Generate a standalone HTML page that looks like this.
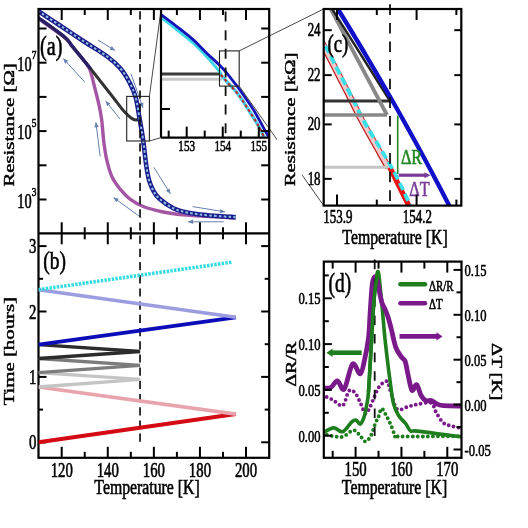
<!DOCTYPE html><html><head><meta charset="utf-8"><style>html,body{margin:0;padding:0;background:#fff;width:528px;height:528px;overflow:hidden}svg{display:block;will-change:transform}text{font-family:"Liberation Serif",serif}</style></head><body>
<svg width="528" height="528" viewBox="0 0 528 528">
<rect width="528" height="528" fill="#fff"/>
<defs>
<clipPath id="clipA"><rect x="38.5" y="9" width="230.7" height="224.3"/></clipPath>
<clipPath id="clipI"><rect x="161" y="9" width="108.2" height="128.6"/></clipPath>
<clipPath id="clipC"><rect x="323.7" y="9" width="137.6" height="196.6"/></clipPath>
<clipPath id="clipB"><rect x="38.5" y="233.3" width="230.7" height="224.5"/></clipPath>
<clipPath id="clipD"><rect x="323.8" y="261.6" width="137.7" height="196.2"/></clipPath>
</defs>
<g clip-path="url(#clipA)">
<path d="M38.00,18.50 C42.42,21.67 58.75,32.75 64.50,37.50 C70.25,42.25 69.08,42.92 72.50,47.00 C75.92,51.08 82.08,58.17 85.00,62.00 C87.92,65.83 88.28,65.33 90.00,70.00 C91.72,74.67 93.80,84.17 95.30,90.00 C96.80,95.83 97.93,100.00 99.00,105.00 C100.07,110.00 100.88,113.72 101.70,120.00 C102.52,126.28 103.02,135.88 103.90,142.70 C104.78,149.52 105.60,155.08 107.00,160.90 C108.40,166.72 110.03,172.80 112.30,177.60 C114.57,182.40 117.70,186.17 120.60,189.70 C123.50,193.23 125.92,196.00 129.70,198.80 C133.48,201.60 137.72,204.30 143.30,206.50 C148.88,208.70 156.58,210.62 163.20,212.00 C169.82,213.38 175.20,214.05 183.00,214.80 C190.80,215.55 201.22,215.97 210.00,216.50 C218.78,217.03 231.42,217.75 235.70,218.00" fill="none" stroke="#a456a4" stroke-width="3.4" stroke-linejoin="round" />
<path d="M38.00,17.50 C42.42,20.75 58.75,32.17 64.50,37.00 C70.25,41.83 68.28,41.37 72.50,46.50 C76.72,51.63 84.72,61.47 89.80,67.80 C94.88,74.13 98.97,79.38 103.00,84.50 C107.03,89.62 110.62,94.17 114.00,98.50 C117.38,102.83 120.43,107.25 123.30,110.50 C126.17,113.75 129.08,116.42 131.20,118.00 C133.32,119.58 134.62,119.92 136.00,120.00 C137.38,120.08 138.92,118.75 139.50,118.50" fill="none" stroke="#333333" stroke-width="3.0" stroke-linejoin="round" />
<path d="M38.00,17.50 C42.42,20.75 58.75,32.17 64.50,37.00 C70.25,41.83 68.28,41.37 72.50,46.50 C76.72,51.63 86.92,64.25 89.80,67.80" fill="none" stroke="#2a2068" stroke-width="3.4" stroke-linejoin="round" stroke-linecap="round"/>
<path d="M38.00,10.90 C41.67,13.33 52.33,20.40 60.00,25.50 C67.67,30.60 76.13,36.33 84.00,41.50 C91.87,46.67 101.12,52.00 107.20,56.50 C113.28,61.00 116.73,64.08 120.50,68.50 C124.27,72.92 127.27,78.17 129.80,83.00 C132.33,87.83 134.03,91.35 135.70,97.50 C137.37,103.65 138.57,112.85 139.80,119.90 C141.03,126.95 142.03,132.28 143.10,139.80 C144.17,147.32 145.22,158.30 146.20,165.00 C147.18,171.70 147.87,175.83 149.00,180.00 C150.13,184.17 151.30,186.92 153.00,190.00 C154.70,193.08 155.73,195.42 159.20,198.50 C162.67,201.58 168.72,206.08 173.80,208.50 C178.88,210.92 183.67,211.83 189.70,213.00 C195.73,214.17 202.33,214.80 210.00,215.50 C217.67,216.20 231.42,216.92 235.70,217.20" fill="none" stroke="#1c1c8c" stroke-width="4.6" stroke-linejoin="round" />
<path d="M38.00,10.90 C41.67,13.33 52.33,20.40 60.00,25.50 C67.67,30.60 76.13,36.33 84.00,41.50 C91.87,46.67 101.12,52.00 107.20,56.50 C113.28,61.00 116.73,64.08 120.50,68.50 C124.27,72.92 127.27,78.17 129.80,83.00 C132.33,87.83 134.03,91.35 135.70,97.50 C137.37,103.65 138.57,112.85 139.80,119.90 C141.03,126.95 142.03,132.28 143.10,139.80 C144.17,147.32 145.22,158.30 146.20,165.00 C147.18,171.70 147.87,175.83 149.00,180.00 C150.13,184.17 151.30,186.92 153.00,190.00 C154.70,193.08 155.73,195.42 159.20,198.50 C162.67,201.58 168.72,206.08 173.80,208.50 C178.88,210.92 183.67,211.83 189.70,213.00 C195.73,214.17 202.33,214.80 210.00,215.50 C217.67,216.20 231.42,216.92 235.70,217.20" fill="none" stroke="#8cc0e0" stroke-width="2.0" stroke-linejoin="round" stroke-dasharray="2.6 2.2"/>
<line x1="98.00" y1="40.00" x2="115.00" y2="50.50" stroke="#6680b0" stroke-width="1.0" />
<path d="M115.00,50.50 L109.59,49.74 L111.90,46.00 Z" fill="#6680b0"/>
<line x1="131.00" y1="73.80" x2="143.00" y2="108.00" stroke="#6680b0" stroke-width="1.0" />
<path d="M143.00,108.00 L139.27,104.01 L143.42,102.55 Z" fill="#6680b0"/>
<line x1="84.50" y1="81.80" x2="63.30" y2="58.60" stroke="#6680b0" stroke-width="1.0" />
<path d="M63.30,58.60 L68.30,60.81 L65.05,63.78 Z" fill="#6680b0"/>
<line x1="120.00" y1="119.00" x2="105.70" y2="101.00" stroke="#6680b0" stroke-width="1.0" />
<path d="M105.70,101.00 L110.53,103.55 L107.09,106.28 Z" fill="#6680b0"/>
<line x1="100.20" y1="156.40" x2="95.90" y2="122.30" stroke="#6680b0" stroke-width="1.0" />
<path d="M95.90,122.30 L98.71,126.99 L94.34,127.54 Z" fill="#6680b0"/>
<line x1="141.30" y1="217.70" x2="113.50" y2="197.50" stroke="#6680b0" stroke-width="1.0" />
<path d="M113.50,197.50 L118.84,198.66 L116.25,202.22 Z" fill="#6680b0"/>
<line x1="153.90" y1="167.30" x2="170.40" y2="193.80" stroke="#6680b0" stroke-width="1.0" />
<path d="M170.40,193.80 L165.89,190.72 L169.62,188.39 Z" fill="#6680b0"/>
<line x1="192.60" y1="206.60" x2="225.00" y2="211.90" stroke="#6680b0" stroke-width="1.0" />
<path d="M225.00,211.90 L219.71,213.26 L220.42,208.92 Z" fill="#6680b0"/>
<line x1="223.80" y1="221.80" x2="188.00" y2="221.80" stroke="#6680b0" stroke-width="1.0" />
<path d="M188.00,221.80 L193.00,219.60 L193.00,224.00 Z" fill="#6680b0"/>
</g>
<line x1="140.04" y1="11.20" x2="140.04" y2="442.00" stroke="#111" stroke-width="1.7" stroke-dasharray="8.2 5.0"/>
<rect x="126.7" y="96.4" width="22.7" height="44.6" fill="none" stroke="#222" stroke-width="1.1"/>
<line x1="149.40" y1="96.40" x2="161.00" y2="10.00" stroke="#333" stroke-width="0.9" />
<line x1="149.40" y1="141.00" x2="161.00" y2="137.60" stroke="#333" stroke-width="0.9" />
<rect x="161" y="9" width="108.2" height="128.6" fill="#fff"/>
<g clip-path="url(#clipI)">
<line x1="161.00" y1="74.00" x2="222.00" y2="74.00" stroke="#3a3a3a" stroke-width="3.0" />
<line x1="161.00" y1="79.20" x2="222.00" y2="79.20" stroke="#c8c8c8" stroke-width="3.0" />
<path d="M161.00,17.50 C163.58,19.50 171.25,25.33 176.50,29.50 C181.75,33.67 187.42,37.92 192.50,42.50 C197.58,47.08 202.15,51.75 207.00,57.00 C211.85,62.25 219.17,71.17 221.60,74.00" fill="none" stroke="#40d8e8" stroke-width="3.0" stroke-linejoin="round" />
<path d="M221.00,75.00 C222.17,76.33 225.17,79.83 228.00,83.00 C230.83,86.17 234.67,89.67 238.00,94.00 C241.33,98.33 244.58,103.67 248.00,109.00 C251.42,114.33 255.83,121.33 258.50,126.00 C261.17,130.67 263.08,135.17 264.00,137.00" fill="none" stroke="#48d0e8" stroke-width="3.4" stroke-linejoin="round" />
<path d="M221.00,75.00 C222.17,76.33 225.17,79.83 228.00,83.00 C230.83,86.17 234.67,89.67 238.00,94.00 C241.33,98.33 244.58,103.67 248.00,109.00 C251.42,114.33 255.83,121.33 258.50,126.00 C261.17,130.67 263.08,135.17 264.00,137.00" fill="none" stroke="#c02828" stroke-width="2.0" stroke-linejoin="round" stroke-dasharray="3 2.5"/>
<path d="M161.00,14.60 C163.58,16.55 171.25,22.22 176.50,26.30 C181.75,30.38 187.42,34.57 192.50,39.10 C197.58,43.63 201.48,48.07 207.00,53.50 C212.52,58.93 218.37,63.12 225.60,71.70 C232.83,80.28 243.50,94.62 250.40,105.00 C257.30,115.38 263.40,127.83 267.00,134.00 C270.60,140.17 271.17,140.67 272.00,142.00" fill="none" stroke="#1414b8" stroke-width="2.8" stroke-linejoin="round" />
</g>
<line x1="225.60" y1="11.60" x2="225.60" y2="137.00" stroke="#111" stroke-width="1.8" stroke-dasharray="10 8.6"/>
<rect x="219.5" y="50.9" width="19.7" height="35.2" fill="none" stroke="#222" stroke-width="1.1"/>
<line x1="239.20" y1="50.90" x2="323.70" y2="9.00" stroke="#333" stroke-width="0.9" />
<line x1="239.20" y1="86.10" x2="323.70" y2="205.60" stroke="#333" stroke-width="0.9" />
<line x1="161.00" y1="9.00" x2="161.00" y2="137.60" stroke="#000" stroke-width="2.2" />
<line x1="161.00" y1="137.60" x2="269.20" y2="137.60" stroke="#000" stroke-width="2.2" />
<line x1="168.67" y1="137.60" x2="168.67" y2="130.60" stroke="#000" stroke-width="2.0" />
<line x1="186.70" y1="137.60" x2="186.70" y2="126.60" stroke="#000" stroke-width="2.0" />
<line x1="204.72" y1="137.60" x2="204.72" y2="130.60" stroke="#000" stroke-width="2.0" />
<line x1="222.75" y1="137.60" x2="222.75" y2="126.60" stroke="#000" stroke-width="2.0" />
<line x1="240.77" y1="137.60" x2="240.77" y2="130.60" stroke="#000" stroke-width="2.0" />
<line x1="258.80" y1="137.60" x2="258.80" y2="126.60" stroke="#000" stroke-width="2.0" />
<line x1="161.00" y1="109.00" x2="170.00" y2="109.00" stroke="#000" stroke-width="2.0" />
<text transform="translate(186.70,150.60) scale(0.72,1)" font-size="15.5" text-anchor="middle" fill="#000" stroke="#000" stroke-width="0.6" >153</text>
<text transform="translate(222.75,150.60) scale(0.72,1)" font-size="15.5" text-anchor="middle" fill="#000" stroke="#000" stroke-width="0.6" >154</text>
<text transform="translate(258.80,150.60) scale(0.72,1)" font-size="15.5" text-anchor="middle" fill="#000" stroke="#000" stroke-width="0.6" >155</text>
<rect x="38.5" y="9.0" width="230.7" height="448.8" fill="none" stroke="#000" stroke-width="2.2"/>
<line x1="38.50" y1="233.30" x2="269.20" y2="233.30" stroke="#000" stroke-width="2.2" />
<line x1="61.70" y1="9.00" x2="61.70" y2="20.00" stroke="#000" stroke-width="2.0" />
<line x1="61.70" y1="233.30" x2="61.70" y2="222.30" stroke="#000" stroke-width="2.0" />
<line x1="61.70" y1="233.30" x2="61.70" y2="244.30" stroke="#000" stroke-width="2.0" />
<line x1="61.70" y1="457.80" x2="61.70" y2="446.80" stroke="#000" stroke-width="2.0" />
<line x1="84.74" y1="9.00" x2="84.74" y2="15.00" stroke="#000" stroke-width="2.0" />
<line x1="84.74" y1="233.30" x2="84.74" y2="227.30" stroke="#000" stroke-width="2.0" />
<line x1="84.74" y1="233.30" x2="84.74" y2="239.30" stroke="#000" stroke-width="2.0" />
<line x1="84.74" y1="457.80" x2="84.74" y2="451.80" stroke="#000" stroke-width="2.0" />
<line x1="107.78" y1="9.00" x2="107.78" y2="20.00" stroke="#000" stroke-width="2.0" />
<line x1="107.78" y1="233.30" x2="107.78" y2="222.30" stroke="#000" stroke-width="2.0" />
<line x1="107.78" y1="233.30" x2="107.78" y2="244.30" stroke="#000" stroke-width="2.0" />
<line x1="107.78" y1="457.80" x2="107.78" y2="446.80" stroke="#000" stroke-width="2.0" />
<line x1="130.82" y1="9.00" x2="130.82" y2="15.00" stroke="#000" stroke-width="2.0" />
<line x1="130.82" y1="233.30" x2="130.82" y2="227.30" stroke="#000" stroke-width="2.0" />
<line x1="130.82" y1="233.30" x2="130.82" y2="239.30" stroke="#000" stroke-width="2.0" />
<line x1="130.82" y1="457.80" x2="130.82" y2="451.80" stroke="#000" stroke-width="2.0" />
<line x1="153.86" y1="9.00" x2="153.86" y2="20.00" stroke="#000" stroke-width="2.0" />
<line x1="153.86" y1="233.30" x2="153.86" y2="222.30" stroke="#000" stroke-width="2.0" />
<line x1="153.86" y1="233.30" x2="153.86" y2="244.30" stroke="#000" stroke-width="2.0" />
<line x1="153.86" y1="457.80" x2="153.86" y2="446.80" stroke="#000" stroke-width="2.0" />
<line x1="176.90" y1="9.00" x2="176.90" y2="15.00" stroke="#000" stroke-width="2.0" />
<line x1="176.90" y1="233.30" x2="176.90" y2="227.30" stroke="#000" stroke-width="2.0" />
<line x1="176.90" y1="233.30" x2="176.90" y2="239.30" stroke="#000" stroke-width="2.0" />
<line x1="176.90" y1="457.80" x2="176.90" y2="451.80" stroke="#000" stroke-width="2.0" />
<line x1="199.94" y1="9.00" x2="199.94" y2="20.00" stroke="#000" stroke-width="2.0" />
<line x1="199.94" y1="233.30" x2="199.94" y2="222.30" stroke="#000" stroke-width="2.0" />
<line x1="199.94" y1="233.30" x2="199.94" y2="244.30" stroke="#000" stroke-width="2.0" />
<line x1="199.94" y1="457.80" x2="199.94" y2="446.80" stroke="#000" stroke-width="2.0" />
<line x1="222.98" y1="9.00" x2="222.98" y2="15.00" stroke="#000" stroke-width="2.0" />
<line x1="222.98" y1="233.30" x2="222.98" y2="227.30" stroke="#000" stroke-width="2.0" />
<line x1="222.98" y1="233.30" x2="222.98" y2="239.30" stroke="#000" stroke-width="2.0" />
<line x1="222.98" y1="457.80" x2="222.98" y2="451.80" stroke="#000" stroke-width="2.0" />
<line x1="246.02" y1="9.00" x2="246.02" y2="20.00" stroke="#000" stroke-width="2.0" />
<line x1="246.02" y1="233.30" x2="246.02" y2="222.30" stroke="#000" stroke-width="2.0" />
<line x1="246.02" y1="233.30" x2="246.02" y2="244.30" stroke="#000" stroke-width="2.0" />
<line x1="246.02" y1="457.80" x2="246.02" y2="446.80" stroke="#000" stroke-width="2.0" />
<line x1="38.50" y1="199.50" x2="46.50" y2="199.50" stroke="#000" stroke-width="2.0" />
<line x1="269.20" y1="199.50" x2="261.20" y2="199.50" stroke="#000" stroke-width="2.0" />
<line x1="38.50" y1="165.30" x2="46.50" y2="165.30" stroke="#000" stroke-width="2.0" />
<line x1="269.20" y1="165.30" x2="261.20" y2="165.30" stroke="#000" stroke-width="2.0" />
<line x1="38.50" y1="131.10" x2="46.50" y2="131.10" stroke="#000" stroke-width="2.0" />
<line x1="269.20" y1="131.10" x2="261.20" y2="131.10" stroke="#000" stroke-width="2.0" />
<line x1="38.50" y1="96.90" x2="46.50" y2="96.90" stroke="#000" stroke-width="2.0" />
<line x1="269.20" y1="96.90" x2="261.20" y2="96.90" stroke="#000" stroke-width="2.0" />
<line x1="38.50" y1="62.70" x2="46.50" y2="62.70" stroke="#000" stroke-width="2.0" />
<line x1="269.20" y1="62.70" x2="261.20" y2="62.70" stroke="#000" stroke-width="2.0" />
<line x1="38.50" y1="28.50" x2="46.50" y2="28.50" stroke="#000" stroke-width="2.0" />
<line x1="269.20" y1="28.50" x2="261.20" y2="28.50" stroke="#000" stroke-width="2.0" />
<line x1="38.50" y1="442.30" x2="46.50" y2="442.30" stroke="#000" stroke-width="2.0" />
<line x1="269.20" y1="442.30" x2="261.20" y2="442.30" stroke="#000" stroke-width="2.0" />
<line x1="38.50" y1="409.60" x2="43.00" y2="409.60" stroke="#000" stroke-width="2.0" />
<line x1="269.20" y1="409.60" x2="264.70" y2="409.60" stroke="#000" stroke-width="2.0" />
<line x1="38.50" y1="376.90" x2="46.50" y2="376.90" stroke="#000" stroke-width="2.0" />
<line x1="269.20" y1="376.90" x2="261.20" y2="376.90" stroke="#000" stroke-width="2.0" />
<line x1="38.50" y1="344.20" x2="43.00" y2="344.20" stroke="#000" stroke-width="2.0" />
<line x1="269.20" y1="344.20" x2="264.70" y2="344.20" stroke="#000" stroke-width="2.0" />
<line x1="38.50" y1="311.50" x2="46.50" y2="311.50" stroke="#000" stroke-width="2.0" />
<line x1="269.20" y1="311.50" x2="261.20" y2="311.50" stroke="#000" stroke-width="2.0" />
<line x1="38.50" y1="278.80" x2="43.00" y2="278.80" stroke="#000" stroke-width="2.0" />
<line x1="269.20" y1="278.80" x2="264.70" y2="278.80" stroke="#000" stroke-width="2.0" />
<line x1="38.50" y1="246.10" x2="46.50" y2="246.10" stroke="#000" stroke-width="2.0" />
<line x1="269.20" y1="246.10" x2="261.20" y2="246.10" stroke="#000" stroke-width="2.0" />
<g clip-path="url(#clipB)">
<line x1="38.50" y1="442.30" x2="235.88" y2="414.10" stroke="#d40a14" stroke-width="4.0" />
<line x1="235.88" y1="414.10" x2="38.50" y2="387.00" stroke="#e8a4ac" stroke-width="3.6" />
<line x1="38.50" y1="387.00" x2="140.10" y2="379.40" stroke="#c4c4c4" stroke-width="3.4" />
<line x1="140.10" y1="379.40" x2="38.50" y2="372.60" stroke="#c4c4c4" stroke-width="3.4" />
<line x1="38.50" y1="372.60" x2="140.10" y2="365.40" stroke="#7c7c7c" stroke-width="3.4" />
<line x1="140.10" y1="365.40" x2="38.50" y2="358.50" stroke="#7c7c7c" stroke-width="3.4" />
<line x1="38.50" y1="358.50" x2="140.10" y2="351.50" stroke="#2c2c2c" stroke-width="3.4" />
<line x1="140.10" y1="351.50" x2="38.50" y2="344.60" stroke="#2c2c2c" stroke-width="3.4" />
<line x1="38.50" y1="344.60" x2="235.88" y2="317.30" stroke="#0c0cb8" stroke-width="3.8" />
<line x1="235.88" y1="317.30" x2="38.50" y2="289.70" stroke="#9c9ce0" stroke-width="3.4" />
<line x1="38.50" y1="289.70" x2="232.20" y2="262.10" stroke="#30dce0" stroke-width="3.6" stroke-dasharray="2.4 1.3"/>
</g>
<text transform="translate(61.70,477.20) scale(0.72,1)" font-size="20.5" text-anchor="middle" fill="#000" stroke="#000" stroke-width="0.6" >120</text>
<text transform="translate(107.78,477.20) scale(0.72,1)" font-size="20.5" text-anchor="middle" fill="#000" stroke="#000" stroke-width="0.6" >140</text>
<text transform="translate(153.86,477.20) scale(0.72,1)" font-size="20.5" text-anchor="middle" fill="#000" stroke="#000" stroke-width="0.6" >160</text>
<text transform="translate(199.94,477.20) scale(0.72,1)" font-size="20.5" text-anchor="middle" fill="#000" stroke="#000" stroke-width="0.6" >180</text>
<text transform="translate(246.02,477.20) scale(0.72,1)" font-size="20.5" text-anchor="middle" fill="#000" stroke="#000" stroke-width="0.6" >200</text>
<text transform="translate(147.00,494.40) scale(0.77,1)" font-size="20.5" text-anchor="middle" fill="#000" stroke="#000" stroke-width="0.6" >Temperature [K]</text>
<text transform="translate(31.60,70.90) scale(0.72,1)" font-size="20.0" text-anchor="end" fill="#000" stroke="#000" stroke-width="0.6" >10</text>
<text transform="translate(31.80,58.70) scale(0.72,1)" font-size="13.0" text-anchor="start" fill="#000" stroke="#000" stroke-width="0.6" >7</text>
<text transform="translate(31.60,139.30) scale(0.72,1)" font-size="20.0" text-anchor="end" fill="#000" stroke="#000" stroke-width="0.6" >10</text>
<text transform="translate(31.80,127.10) scale(0.72,1)" font-size="13.0" text-anchor="start" fill="#000" stroke="#000" stroke-width="0.6" >5</text>
<text transform="translate(31.60,207.70) scale(0.72,1)" font-size="20.0" text-anchor="end" fill="#000" stroke="#000" stroke-width="0.6" >10</text>
<text transform="translate(31.80,195.50) scale(0.72,1)" font-size="13.0" text-anchor="start" fill="#000" stroke="#000" stroke-width="0.6" >3</text>
<text transform="translate(36.30,449.30) scale(0.72,1)" font-size="20.5" text-anchor="end" fill="#000" stroke="#000" stroke-width="0.6" >0</text>
<text transform="translate(36.30,383.90) scale(0.72,1)" font-size="20.5" text-anchor="end" fill="#000" stroke="#000" stroke-width="0.6" >1</text>
<text transform="translate(36.30,318.50) scale(0.72,1)" font-size="20.5" text-anchor="end" fill="#000" stroke="#000" stroke-width="0.6" >2</text>
<text transform="translate(36.30,253.10) scale(0.72,1)" font-size="20.5" text-anchor="end" fill="#000" stroke="#000" stroke-width="0.6" >3</text>
<text transform="translate(13.80,124.90) scale(0.72,1) rotate(-90)" font-size="20.8" text-anchor="middle" fill="#000" stroke="#000" stroke-width="0.6">Resistance [Ω]</text>
<text transform="translate(13.80,351.20) scale(0.72,1) rotate(-90)" font-size="20.8" text-anchor="middle" fill="#000" stroke="#000" stroke-width="0.6">Time [hours]</text>
<text transform="translate(40.00,55.00) scale(0.75,1)" font-size="27" text-anchor="start" fill="#000" stroke="#000" stroke-width="0.6" >(a)</text>
<text transform="translate(43.30,268.50) scale(0.78,1)" font-size="25" text-anchor="start" fill="#000" stroke="#000" stroke-width="0.6" >(b)</text>
<g clip-path="url(#clipC)">
<path d="M301.50,3.00 C305.75,11.25 318.68,36.33 327.00,52.50 C335.32,68.67 345.57,88.58 351.40,100.00 C357.23,111.42 355.73,109.50 362.00,121.00 C368.27,132.50 384.50,161.00 389.00,169.00" fill="none" stroke="#f2cccc" stroke-width="5.4" stroke-linejoin="round" />
<path d="M298.50,3.00 C302.75,11.25 315.68,36.33 324.00,52.50 C332.32,68.67 342.57,88.58 348.40,100.00 C354.23,111.42 352.73,109.50 359.00,121.00 C365.27,132.50 381.50,161.00 386.00,169.00" fill="none" stroke="#c02020" stroke-width="1.3" stroke-linejoin="round" />
<path d="M304.70,3.00 C308.95,11.25 321.88,36.33 330.20,52.50 C338.52,68.67 348.77,88.58 354.60,100.00 C360.43,111.42 358.93,109.50 365.20,121.00 C371.47,132.50 387.70,161.00 392.20,169.00" fill="none" stroke="#c04040" stroke-width="1.2" stroke-linejoin="round" />
<line x1="323.70" y1="167.20" x2="388.00" y2="167.20" stroke="#c4c4c4" stroke-width="3.0" />
<path d="M389.8,167.5 L409.5,207" fill="none" stroke="#ee1010" stroke-width="5.2" stroke-linejoin="round" />
<path d="M303.30,3.00 C307.55,11.25 320.48,36.33 328.80,52.50 C337.12,68.67 347.37,88.58 353.20,100.00 C359.03,111.42 357.25,109.50 363.80,121.00 C370.35,132.50 384.63,154.67 392.50,169.00 C400.37,183.33 407.92,200.67 411.00,207.00" fill="none" stroke="#38e0e8" stroke-width="3.8" stroke-linejoin="round" stroke-dasharray="8 4"/>
<line x1="323.70" y1="101.00" x2="390.00" y2="101.00" stroke="#333" stroke-width="3.0" />
<line x1="323.70" y1="115.00" x2="387.00" y2="115.00" stroke="#888" stroke-width="3.6" />
<path d="M326,0 L387,115" fill="none" stroke="#888" stroke-width="3.8" stroke-linejoin="round" />
<path d="M326.5,0 L390,101" fill="none" stroke="#222" stroke-width="2.4" stroke-linejoin="round" />
<path d="M332.22,0.00 C332.85,1.00 334.72,4.00 335.96,6.00 C337.20,8.00 338.44,10.00 339.67,12.00 C340.91,14.00 342.14,16.00 343.37,18.00 C344.60,20.00 345.82,22.00 347.05,24.00 C348.27,26.00 349.49,28.00 350.70,30.00 C351.92,32.00 353.13,34.00 354.34,36.00 C355.55,38.00 356.76,40.00 357.96,42.00 C359.16,44.00 360.36,46.00 361.56,48.00 C362.76,50.00 363.95,52.00 365.14,54.00 C366.33,56.00 367.52,58.00 368.70,60.00 C369.89,62.00 371.07,64.00 372.24,66.00 C373.42,68.00 374.60,70.00 375.77,72.00 C376.94,74.00 378.11,76.00 379.27,78.00 C380.43,80.00 381.60,82.00 382.75,84.00 C383.91,86.00 385.07,88.00 386.22,90.00 C387.37,92.00 388.52,94.00 389.66,96.00 C390.81,98.00 391.95,100.00 393.09,102.00 C394.23,104.00 395.37,106.00 396.50,108.00 C397.63,110.00 398.76,112.00 399.89,114.00 C401.01,116.00 402.14,118.00 403.25,120.00 C404.37,122.00 405.49,124.00 406.60,126.00 C407.72,128.00 408.83,130.00 409.93,132.00 C411.04,134.00 412.14,136.00 413.25,138.00 C414.35,140.00 415.44,142.00 416.54,144.00 C417.63,146.00 418.72,148.00 419.81,150.00 C420.90,152.00 421.98,154.00 423.06,156.00 C424.14,158.00 425.22,160.00 426.30,162.00 C427.37,164.00 428.44,166.00 429.51,168.00 C430.58,170.00 431.64,172.00 432.71,174.00 C433.77,176.00 434.83,178.00 435.88,180.00 C436.94,182.00 437.99,184.00 439.04,186.00 C440.09,188.00 441.13,190.00 442.18,192.00 C443.22,194.00 444.26,196.00 445.29,198.00 C446.33,200.00 447.36,202.00 448.39,204.00 C449.42,206.00 450.96,209.00 451.47,210.00" fill="none" stroke="#1010c8" stroke-width="4.4" stroke-linejoin="round" />
</g>
<line x1="390.00" y1="4.30" x2="390.00" y2="205.00" stroke="#111" stroke-width="1.8" stroke-dasharray="10.6 8"/>
<line x1="397.70" y1="115.60" x2="397.70" y2="174.00" stroke="#228822" stroke-width="1.6" />
<text transform="translate(411.50,163.90) scale(0.77,1)" font-size="21" text-anchor="middle" fill="#228822" stroke="#228822" stroke-width="0.6" >ΔR</text>
<line x1="398.70" y1="175.20" x2="426.00" y2="175.20" stroke="#7a3a98" stroke-width="3.2" />
<path d="M430.5,175.2 L424.5,172.2 L424.5,178.2 Z" fill="#7a3a98"/>
<text transform="translate(419.50,195.50) scale(0.77,1)" font-size="21" text-anchor="middle" fill="#7a3a98" stroke="#7a3a98" stroke-width="0.6" >ΔT</text>
<rect x="323.7" y="9.0" width="137.60000000000002" height="196.6" fill="none" stroke="#000" stroke-width="2.2"/>
<line x1="323.70" y1="178.85" x2="331.70" y2="178.85" stroke="#000" stroke-width="2.0" />
<line x1="461.30" y1="178.85" x2="454.30" y2="178.85" stroke="#000" stroke-width="2.0" />
<text transform="translate(320.60,184.85) scale(0.72,1)" font-size="18" text-anchor="end" fill="#000" stroke="#000" stroke-width="0.6" >18</text>
<line x1="323.70" y1="124.40" x2="331.70" y2="124.40" stroke="#000" stroke-width="2.0" />
<line x1="461.30" y1="124.40" x2="454.30" y2="124.40" stroke="#000" stroke-width="2.0" />
<text transform="translate(320.60,130.40) scale(0.72,1)" font-size="18" text-anchor="end" fill="#000" stroke="#000" stroke-width="0.6" >20</text>
<line x1="323.70" y1="75.14" x2="331.70" y2="75.14" stroke="#000" stroke-width="2.0" />
<line x1="461.30" y1="75.14" x2="454.30" y2="75.14" stroke="#000" stroke-width="2.0" />
<text transform="translate(320.60,81.14) scale(0.72,1)" font-size="18" text-anchor="end" fill="#000" stroke="#000" stroke-width="0.6" >22</text>
<line x1="323.70" y1="30.17" x2="331.70" y2="30.17" stroke="#000" stroke-width="2.0" />
<line x1="461.30" y1="30.17" x2="454.30" y2="30.17" stroke="#000" stroke-width="2.0" />
<text transform="translate(320.60,36.17) scale(0.72,1)" font-size="18" text-anchor="end" fill="#000" stroke="#000" stroke-width="0.6" >24</text>
<line x1="337.00" y1="9.00" x2="337.00" y2="20.00" stroke="#000" stroke-width="2.0" />
<line x1="337.00" y1="205.60" x2="337.00" y2="194.60" stroke="#000" stroke-width="2.0" />
<line x1="376.80" y1="9.00" x2="376.80" y2="15.00" stroke="#000" stroke-width="2.0" />
<line x1="376.80" y1="205.60" x2="376.80" y2="199.60" stroke="#000" stroke-width="2.0" />
<line x1="416.59" y1="9.00" x2="416.59" y2="20.00" stroke="#000" stroke-width="2.0" />
<line x1="416.59" y1="205.60" x2="416.59" y2="194.60" stroke="#000" stroke-width="2.0" />
<line x1="456.38" y1="9.00" x2="456.38" y2="15.00" stroke="#000" stroke-width="2.0" />
<line x1="456.38" y1="205.60" x2="456.38" y2="199.60" stroke="#000" stroke-width="2.0" />
<text transform="translate(337.80,223.00) scale(0.72,1)" font-size="18" text-anchor="middle" fill="#000" stroke="#000" stroke-width="0.6" >153.9</text>
<text transform="translate(417.39,223.00) scale(0.72,1)" font-size="18" text-anchor="middle" fill="#000" stroke="#000" stroke-width="0.6" >154.2</text>
<text transform="translate(395.00,243.50) scale(0.77,1)" font-size="20.5" text-anchor="middle" fill="#000" stroke="#000" stroke-width="0.6" >Temperature [K]</text>
<rect x="277" y="40" width="25" height="155" fill="#fff"/>
<text transform="translate(294.60,119.50) scale(0.72,1) rotate(-90)" font-size="20.8" text-anchor="middle" fill="#000" stroke="#000" stroke-width="0.6">Resistance [kΩ]</text>
<text transform="translate(327.50,52.00) scale(0.72,1)" font-size="26" text-anchor="start" fill="#000" stroke="#000" stroke-width="0.6" >(c)</text>
<g clip-path="url(#clipD)">
<path d="M322.00,395.20 C323.68,395.92 328.65,397.78 332.10,399.50 C335.55,401.22 339.92,406.92 342.70,405.50 C345.48,404.08 346.78,393.17 348.80,391.00 C350.82,388.83 352.93,390.67 354.80,392.50 C356.67,394.33 358.22,398.50 360.00,402.00 C361.78,405.50 363.83,412.67 365.50,413.50 C367.17,414.33 368.47,409.92 370.00,407.00 C371.53,404.08 373.20,399.33 374.70,396.00 C376.20,392.67 377.00,389.47 379.00,387.00 C381.00,384.53 384.78,380.53 386.70,381.20 C388.62,381.87 388.78,386.37 390.50,391.00 C392.22,395.63 394.17,406.37 397.00,409.00 C399.83,411.63 404.08,407.58 407.50,406.80 C410.92,406.02 413.57,404.93 417.50,404.30 C421.43,403.67 427.98,401.65 431.10,403.00 C434.22,404.35 434.20,409.13 436.20,412.40 C438.20,415.67 440.53,420.33 443.10,422.60 C445.67,424.87 448.28,425.00 451.60,426.00 C454.92,427.00 461.10,428.17 463.00,428.60" fill="none" stroke="#7a1a8a" stroke-width="3.9" stroke-linejoin="round" stroke-dasharray="0 5" stroke-linecap="round"/>
<path d="M322.00,433.50 C325.20,434.08 335.98,437.55 341.20,437.00 C346.42,436.45 350.17,430.43 353.30,430.20 C356.43,429.97 357.97,433.72 360.00,435.60 C362.03,437.48 363.67,441.50 365.50,441.50 C367.33,441.50 369.37,438.63 371.00,435.60 C372.63,432.57 374.07,426.37 375.30,423.30 C376.53,420.23 377.37,419.67 378.40,417.20 C379.43,414.73 380.27,408.92 381.50,408.50 C382.73,408.08 384.27,412.02 385.80,414.70 C387.33,417.38 389.12,421.12 390.70,424.60 C392.28,428.08 393.75,433.62 395.30,435.60 C396.85,437.58 388.72,436.40 400.00,436.50 C411.28,436.60 452.50,436.25 463.00,436.20" fill="none" stroke="#1e7e1e" stroke-width="3.9" stroke-linejoin="round" stroke-dasharray="0 5" stroke-linecap="round"/>
<path d="M322.00,433.20 C323.93,432.32 330.15,428.15 333.60,427.90 C337.05,427.65 339.67,432.72 342.70,431.70 C345.73,430.68 349.52,423.70 351.80,421.80 C354.08,419.90 355.00,419.92 356.40,420.30 C357.80,420.68 358.90,424.72 360.20,424.10 C361.50,423.48 363.12,419.80 364.20,416.60 C365.28,413.40 365.98,409.00 366.70,404.90 C367.42,400.80 367.78,401.15 368.50,392.00 C369.22,382.85 370.08,365.33 371.00,350.00 C371.92,334.67 372.88,313.08 374.00,300.00 C375.12,286.92 376.53,272.33 377.70,271.50 C378.87,270.67 379.87,284.58 381.00,295.00 C382.13,305.42 383.43,323.17 384.50,334.00 C385.57,344.83 386.32,351.00 387.40,360.00 C388.48,369.00 389.97,380.68 391.00,388.00 C392.03,395.32 392.32,399.27 393.60,403.90 C394.88,408.53 396.70,412.53 398.70,415.80 C400.70,419.07 403.60,420.95 405.60,423.50 C407.60,426.05 408.72,429.83 410.70,431.10 C412.68,432.37 408.78,430.10 417.50,431.10 C426.22,432.10 455.42,436.10 463.00,437.10" fill="none" stroke="#1e7e1e" stroke-width="3.6" stroke-linejoin="round" />
<path d="M322.00,387.60 C323.43,387.60 328.03,388.73 330.60,387.60 C333.17,386.47 335.13,380.55 337.40,380.80 C339.67,381.05 341.67,391.88 344.20,389.10 C346.73,386.32 349.93,366.63 352.60,364.10 C355.27,361.57 358.22,374.58 360.20,373.90 C362.18,373.22 363.12,365.98 364.50,360.00 C365.88,354.02 367.55,346.00 368.50,338.00 C369.45,330.00 369.57,321.00 370.20,312.00 C370.83,303.00 371.52,289.87 372.30,284.00 C373.08,278.13 374.03,277.13 374.90,276.80 C375.77,276.47 376.63,278.95 377.50,282.00 C378.37,285.05 379.35,291.60 380.10,295.10 C380.85,298.60 381.27,300.85 382.00,303.00 C382.73,305.15 383.50,305.67 384.50,308.00 C385.50,310.33 386.85,313.42 388.00,317.00 C389.15,320.58 390.08,324.38 391.40,329.50 C392.72,334.62 394.17,343.05 395.90,347.70 C397.63,352.35 400.25,355.12 401.80,357.40 C403.35,359.68 404.15,358.47 405.20,361.40 C406.25,364.33 406.97,370.18 408.10,375.00 C409.23,379.82 410.58,388.68 412.00,390.30 C413.42,391.92 415.08,383.83 416.60,384.70 C418.12,385.57 419.58,392.85 421.10,395.50 C422.62,398.15 423.98,399.75 425.70,400.60 C427.42,401.45 429.52,400.03 431.40,400.60 C433.28,401.17 434.92,403.15 437.00,404.00 C439.08,404.85 439.57,405.37 443.90,405.70 C448.23,406.03 459.82,405.95 463.00,406.00" fill="none" stroke="#7a1a8a" stroke-width="4.8" stroke-linejoin="round" />
</g>
<line x1="374.70" y1="259.60" x2="374.70" y2="436.00" stroke="#111" stroke-width="1.8" stroke-dasharray="9.6 9"/>
<path d="M368.50,392.00 C368.92,385.00 370.08,365.33 371.00,350.00 C371.92,334.67 372.88,313.08 374.00,300.00 C375.12,286.92 377.08,276.25 377.70,271.50" fill="none" stroke="#1e7e1e" stroke-width="3.6" stroke-linejoin="round" />
<line x1="400.50" y1="284.20" x2="425.00" y2="284.20" stroke="#1e7e1e" stroke-width="4.6" stroke-linecap="round"/>
<text transform="translate(429.00,290.80) scale(0.75,1)" font-size="14.5" text-anchor="start" fill="#000" stroke="#000" stroke-width="0.6" >ΔR/R</text>
<line x1="400.50" y1="303.20" x2="425.00" y2="303.20" stroke="#7a1a8a" stroke-width="4.6" stroke-linecap="round"/>
<text transform="translate(429.00,308.80) scale(0.75,1)" font-size="14.5" text-anchor="start" fill="#000" stroke="#000" stroke-width="0.6" >ΔT</text>
<line x1="399.50" y1="336.40" x2="438.00" y2="336.40" stroke="#7a1a8a" stroke-width="4.6" />
<path d="M442.5,336.4 L436.5,332.2 L436.5,340.6 Z" fill="#7a1a8a"/>
<line x1="361.70" y1="352.70" x2="331.00" y2="352.70" stroke="#1e7e1e" stroke-width="4.6" />
<path d="M326.5,352.7 L332.5,348.5 L332.5,356.9 Z" fill="#1e7e1e"/>
<rect x="323.8" y="261.6" width="137.7" height="196.2" fill="none" stroke="#000" stroke-width="2.2"/>
<line x1="323.80" y1="435.70" x2="331.80" y2="435.70" stroke="#000" stroke-width="2.0" />
<line x1="323.80" y1="412.80" x2="328.80" y2="412.80" stroke="#000" stroke-width="2.0" />
<line x1="323.80" y1="389.90" x2="331.80" y2="389.90" stroke="#000" stroke-width="2.0" />
<line x1="323.80" y1="367.00" x2="328.80" y2="367.00" stroke="#000" stroke-width="2.0" />
<line x1="323.80" y1="344.10" x2="331.80" y2="344.10" stroke="#000" stroke-width="2.0" />
<line x1="323.80" y1="321.20" x2="328.80" y2="321.20" stroke="#000" stroke-width="2.0" />
<line x1="323.80" y1="298.30" x2="331.80" y2="298.30" stroke="#000" stroke-width="2.0" />
<line x1="323.80" y1="275.40" x2="328.80" y2="275.40" stroke="#000" stroke-width="2.0" />
<line x1="461.50" y1="449.50" x2="453.50" y2="449.50" stroke="#000" stroke-width="2.0" />
<line x1="461.50" y1="427.05" x2="456.50" y2="427.05" stroke="#000" stroke-width="2.0" />
<line x1="461.50" y1="404.60" x2="453.50" y2="404.60" stroke="#000" stroke-width="2.0" />
<line x1="461.50" y1="382.15" x2="456.50" y2="382.15" stroke="#000" stroke-width="2.0" />
<line x1="461.50" y1="359.70" x2="453.50" y2="359.70" stroke="#000" stroke-width="2.0" />
<line x1="461.50" y1="337.25" x2="456.50" y2="337.25" stroke="#000" stroke-width="2.0" />
<line x1="461.50" y1="314.80" x2="453.50" y2="314.80" stroke="#000" stroke-width="2.0" />
<line x1="461.50" y1="292.35" x2="456.50" y2="292.35" stroke="#000" stroke-width="2.0" />
<line x1="461.50" y1="269.90" x2="453.50" y2="269.90" stroke="#000" stroke-width="2.0" />
<line x1="332.68" y1="261.60" x2="332.68" y2="268.60" stroke="#000" stroke-width="2.0" />
<line x1="332.68" y1="457.80" x2="332.68" y2="450.80" stroke="#000" stroke-width="2.0" />
<line x1="355.60" y1="261.60" x2="355.60" y2="272.60" stroke="#000" stroke-width="2.0" />
<line x1="355.60" y1="457.80" x2="355.60" y2="446.80" stroke="#000" stroke-width="2.0" />
<line x1="378.53" y1="261.60" x2="378.53" y2="268.60" stroke="#000" stroke-width="2.0" />
<line x1="378.53" y1="457.80" x2="378.53" y2="450.80" stroke="#000" stroke-width="2.0" />
<line x1="401.45" y1="261.60" x2="401.45" y2="272.60" stroke="#000" stroke-width="2.0" />
<line x1="401.45" y1="457.80" x2="401.45" y2="446.80" stroke="#000" stroke-width="2.0" />
<line x1="424.38" y1="261.60" x2="424.38" y2="268.60" stroke="#000" stroke-width="2.0" />
<line x1="424.38" y1="457.80" x2="424.38" y2="450.80" stroke="#000" stroke-width="2.0" />
<line x1="447.30" y1="261.60" x2="447.30" y2="272.60" stroke="#000" stroke-width="2.0" />
<line x1="447.30" y1="457.80" x2="447.30" y2="446.80" stroke="#000" stroke-width="2.0" />
<text transform="translate(320.60,441.70) scale(0.72,1)" font-size="17.5" text-anchor="end" fill="#000" stroke="#000" stroke-width="0.6" >0.00</text>
<text transform="translate(320.60,395.90) scale(0.72,1)" font-size="17.5" text-anchor="end" fill="#000" stroke="#000" stroke-width="0.6" >0.05</text>
<text transform="translate(320.60,350.10) scale(0.72,1)" font-size="17.5" text-anchor="end" fill="#000" stroke="#000" stroke-width="0.6" >0.10</text>
<text transform="translate(320.60,304.30) scale(0.72,1)" font-size="17.5" text-anchor="end" fill="#000" stroke="#000" stroke-width="0.6" >0.15</text>
<text transform="translate(464.50,455.50) scale(0.72,1)" font-size="17.5" text-anchor="start" fill="#000" stroke="#000" stroke-width="0.6" >-0.05</text>
<text transform="translate(464.50,410.60) scale(0.72,1)" font-size="17.5" text-anchor="start" fill="#000" stroke="#000" stroke-width="0.6" >0.00</text>
<text transform="translate(464.50,365.70) scale(0.72,1)" font-size="17.5" text-anchor="start" fill="#000" stroke="#000" stroke-width="0.6" >0.05</text>
<text transform="translate(464.50,320.80) scale(0.72,1)" font-size="17.5" text-anchor="start" fill="#000" stroke="#000" stroke-width="0.6" >0.10</text>
<text transform="translate(464.50,275.90) scale(0.72,1)" font-size="17.5" text-anchor="start" fill="#000" stroke="#000" stroke-width="0.6" >0.15</text>
<text transform="translate(355.60,476.30) scale(0.72,1)" font-size="20.5" text-anchor="middle" fill="#000" stroke="#000" stroke-width="0.6" >150</text>
<text transform="translate(401.45,476.30) scale(0.72,1)" font-size="20.5" text-anchor="middle" fill="#000" stroke="#000" stroke-width="0.6" >160</text>
<text transform="translate(447.30,476.30) scale(0.72,1)" font-size="20.5" text-anchor="middle" fill="#000" stroke="#000" stroke-width="0.6" >170</text>
<text transform="translate(394.50,493.50) scale(0.77,1)" font-size="20.5" text-anchor="middle" fill="#000" stroke="#000" stroke-width="0.6" >Temperature [K]</text>
<text transform="translate(295.50,364.20) scale(0.72,1) rotate(-90)" font-size="20.0" text-anchor="middle" fill="#000" stroke="#000" stroke-width="0.6">ΔR/R</text>
<text transform="translate(491.50,371.60) scale(0.72,1) rotate(90)" font-size="20.0" text-anchor="middle" fill="#000" stroke="#000" stroke-width="0.6">ΔT [K]</text>
<text transform="translate(328.50,291.50) scale(0.72,1)" font-size="27" text-anchor="start" fill="#000" stroke="#000" stroke-width="0.6" >(d)</text>
</svg></body></html>
